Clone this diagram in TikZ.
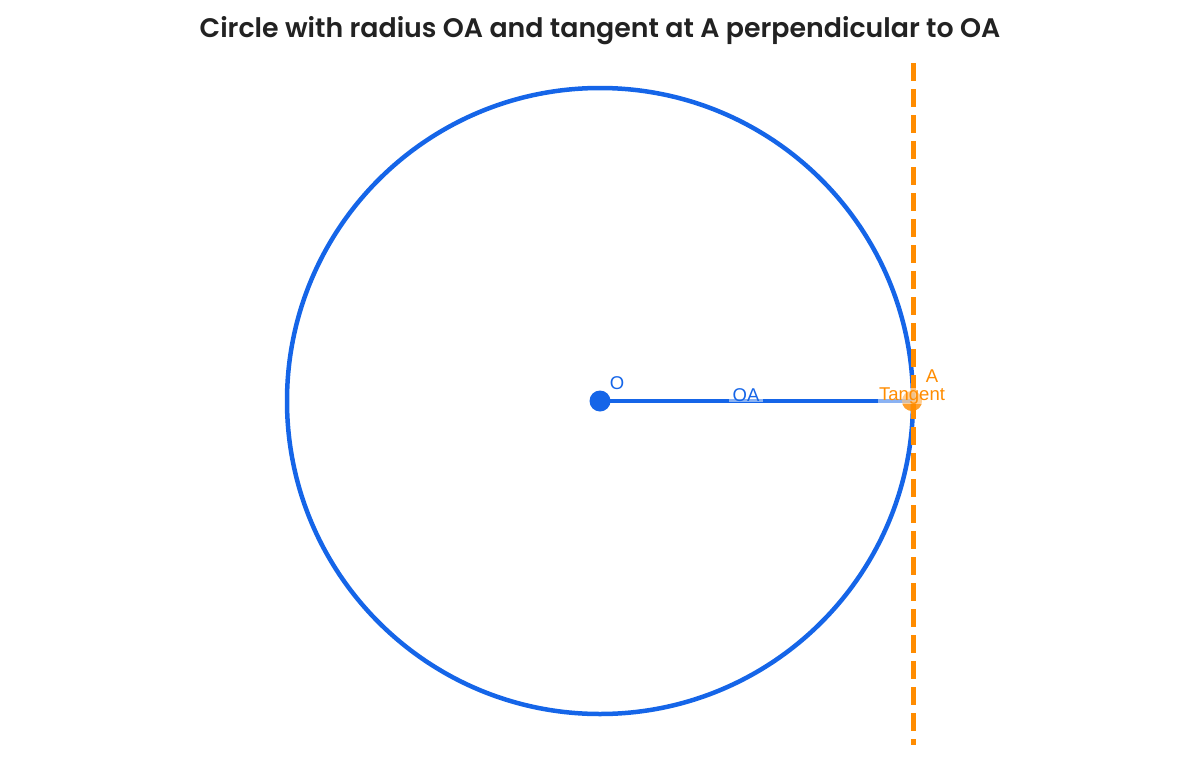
\documentclass[tikz,border=0pt]{standalone}
\usepackage{fontspec}
\setmainfont{Poppins}
\newfontfamily\titlefont{Poppins SemiBold}
\newfontfamily\labelfont{Liberation Sans}
\definecolor{cblue}{RGB}{21,101,232}
\definecolor{corange}{RGB}{255,140,0}
\definecolor{ctitle}{RGB}{34,34,34}
\begin{document}
\begin{tikzpicture}[x=1pt,y=-1pt,
  circ/.style={draw=cblue,line width=4.5pt},
  radiusline/.style={draw=cblue,line width=4pt},
  tangentline/.style={draw=corange,line width=5pt,dash pattern=on 18pt off 8pt},
  ptO/.style={circle,fill=cblue,inner sep=0pt,minimum size=21pt},
  ptA/.style={circle,fill=corange,fill opacity=0.6,inner sep=0pt,minimum size=20pt},
  lbl/.style={font=\labelfont\fontsize{18.5}{18.5}\selectfont,inner sep=1pt},
  bglbl/.style={lbl,fill=white,fill opacity=0.5,text opacity=1,inner xsep=4pt,inner ysep=0pt}]
\useasboundingbox (0,0) rectangle (1200,763);
\node[font=\titlefont\fontsize{26.8}{26.8}\selectfont,text=ctitle] (title) at (600,31) {Circle with radius OA and tangent at A perpendicular to OA};
\coordinate (C) at (600,401);
\draw[circ] (C) circle[radius=313];
\coordinate (T1) at (913,63);
\coordinate (T2) at (913,745);
\node[ptO] (O) at (C) {};
\node[ptA] (A) at (912,401) {};
\draw[radiusline] (O.center) -- (A.center);
\draw[tangentline] (T1) -- (T2);
\node[ptA] at (912,401) {};
\node[lbl,text=cblue] (Olbl) at (617,383) {O};
\node[bglbl,text=cblue] (OAlbl) at (746,395) {OA};
\node[lbl,text=corange,inner sep=0pt] (Albl) at (932,376) {A};
\node[bglbl,text=corange,inner xsep=1pt] (Tlbl) at (912,396) {Tangent};
\end{tikzpicture}
\end{document}
